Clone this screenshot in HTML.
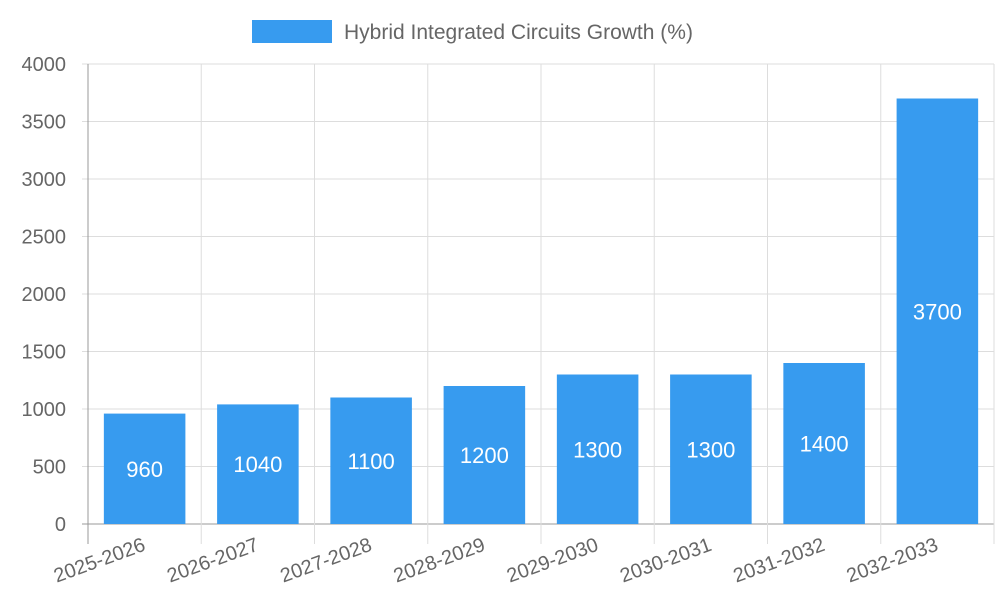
<!DOCTYPE html>
<html><head><meta charset="utf-8"><style>
body{margin:0;background:#fff;}
svg{display:block;font-family:"Liberation Sans",sans-serif;}
</style></head><body>
<svg id="chart" width="1000" height="600">
<g id="legend">
<rect x="252" y="20" width="80" height="23" fill="#379bef"/>
<text x="344" y="39" font-size="21" fill="#666">Hybrid Integrated Circuits Growth (%)</text>
</g>
<g id="grid"></g><g id="bars"></g><g id="axes"></g>
</svg>
<script>
const categories=["2025-2026","2026-2027","2027-2028","2028-2029","2029-2030","2030-2031","2031-2032","2032-2033"];
const values=[960,1040,1100,1200,1300,1300,1400,3700];
const yTicks=[0,500,1000,1500,2000,2500,3000,3500,4000];
const NS="http://www.w3.org/2000/svg";
const L=88,R=994,T=64,B=524,yMax=4000;
const bw=(R-L)/categories.length;
const y=v=>B-(v/yMax)*(B-T);
const x=i=>L+bw*i;
function mk(tag,attrs,parent,text){const e=document.createElementNS(NS,tag);for(const k in attrs)e.setAttribute(k,attrs[k]);if(text!==undefined)e.textContent=text;parent.appendChild(e);return e;}
const grid=document.getElementById('grid'),bars=document.getElementById('bars'),axes=document.getElementById('axes');
yTicks.forEach(t=>{
 const l=mk('line',{x1:L-6,x2:R,y1:y(t),y2:y(t),stroke:t===0?'#999':'#ddd','stroke-width':1},grid);
 
 
 const tx=mk('text',{x:66,y:y(t)+7,'text-anchor':'end','font-size':20,fill:'#666'},axes,String(t));
 
 
});
for(let i=0;i<=categories.length;i++){
 const l=mk('line',{x1:x(i),x2:x(i),y1:T,y2:B+20,stroke:i===0?'#999':'#ddd','stroke-width':1},grid);
 
 
}
categories.forEach((c,i)=>{
 const cx=x(i)+bw/2,w=bw*0.72,v=values[i];
 const r=mk('rect',{x:cx-w/2,y:y(v),width:w,height:B-y(v),fill:'#379bef'},bars);
 
 
 const vt=mk('text',{x:cx,y:(y(v)+B)/2+8,'text-anchor':'middle','font-size':22,fill:'#fff'},bars,String(v));
 
 
 const lx=cx+2,ly=B+26;
 const xt=mk('text',{x:lx,y:ly,'text-anchor':'end','font-size':20,fill:'#666',transform:`rotate(-20 ${lx} ${ly})`},axes,c);
 
 
});
</script>
</body></html>
